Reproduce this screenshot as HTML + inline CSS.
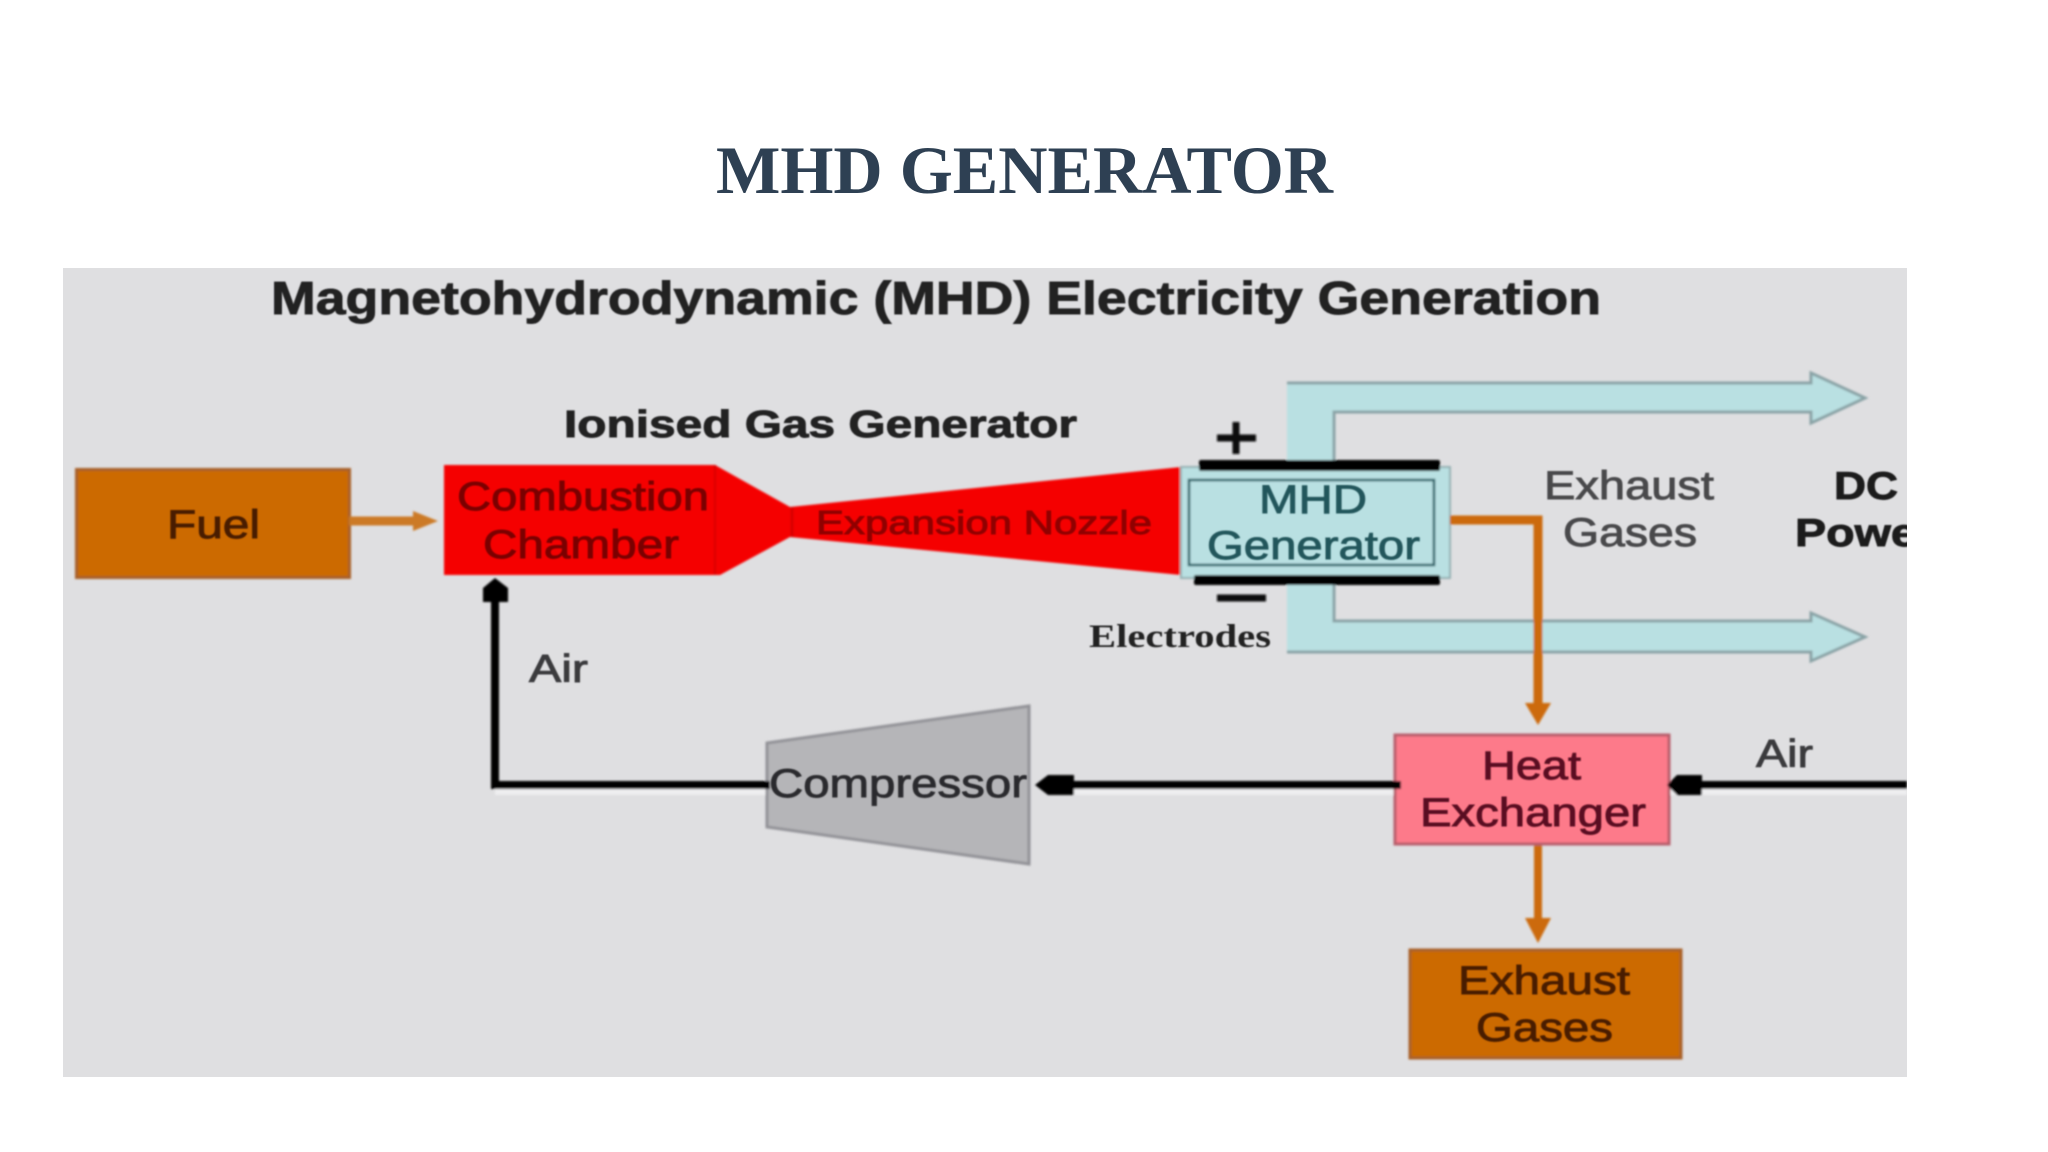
<!DOCTYPE html>
<html lang="en">
<head>
<meta charset="utf-8">
<title>MHD Generator</title>
<style>
html,body{margin:0;padding:0;background:#fff;width:2048px;height:1152px;overflow:hidden}
svg{display:block}
text{font-family:"Liberation Sans",sans-serif}
.s{font-family:"Liberation Serif",serif}
.h text{stroke-width:.9;paint-order:stroke}
</style>
</head>
<body>
<svg width="2048" height="1152" viewBox="0 0 2048 1152" xmlns="http://www.w3.org/2000/svg">
<defs>
<filter id="b" x="-2%" y="-2%" width="104%" height="104%"><feGaussianBlur stdDeviation="1.1"/></filter>
<filter id="t" x="-2%" y="-10%" width="104%" height="120%"><feGaussianBlur stdDeviation="0.9"/></filter>
<clipPath id="p"><rect x="63" y="268" width="1844" height="809"/></clipPath>
</defs>
<rect width="2048" height="1152" fill="#fff"/>
<text class="s" x="716" y="193" font-size="68" font-weight="700" fill="#2e4053" textLength="617" lengthAdjust="spacingAndGlyphs">MHD GENERATOR</text>
<rect x="63" y="268" width="1844" height="809" fill="#dfdfe1"/>
<g clip-path="url(#p)">
<g filter="url(#b)">
<!-- blue arrows -->
<path d="M1287 461V383H1811V373L1865 398L1811 423V412H1334V461Z" fill="#b9e0e2"/>
<path d="M1287 383H1811V373L1865 398L1811 423V412H1334V461" fill="none" stroke="#8aa3a6" stroke-width="3"/>
<path d="M1287 584V652H1811V661L1865 637L1811 613V621H1334V584Z" fill="#b9e0e2"/>
<path d="M1287 652H1811V661L1865 637L1811 613V621H1334V584" fill="none" stroke="#8aa3a6" stroke-width="3"/>
<!-- halos -->
<path d="M1907 788H1395M1395 788H1060M767 788H495" stroke="#eeeef0" stroke-width="14" fill="none"/>
<!-- fuel -->
<rect x="76.500" y="469.500" width="273" height="108" fill="#cc6a00" stroke="#a8602a" stroke-width="3"/>
<path d="M349 521H418" stroke="#cc7a28" stroke-width="9" fill="none"/>
<path d="M413 511L438 521L413 531Z" fill="#cc7a28"/>
<!-- combustion and nozzle -->
<path d="M444 465H715L790 507L1181 467V575L790 537L720 575H444Z" fill="#f50000"/>
<path d="M715 465V575" stroke="#d80000" stroke-width="2"/>
<path d="M792 507V537" stroke="#d80000" stroke-width="3"/>
<!-- MHD box -->
<rect x="1181" y="467" width="269" height="111" fill="#b9e0e2" stroke="#95b0b2" stroke-width="2"/>
<rect x="1189" y="480" width="245" height="85" fill="none" stroke="#2a6066" stroke-width="2.500"/>
<rect x="1199" y="460" width="241" height="11" rx="2" fill="#050505"/>
<rect x="1194" y="575" width="246" height="10" rx="2" fill="#050505"/>
<path d="M1217 438H1256M1236 422V454" stroke="#111" stroke-width="7" fill="none"/>
<path d="M1217 598H1266" stroke="#111" stroke-width="7" fill="none"/>
<!-- orange lines -->
<path d="M1450 520H1538V705" stroke="#cc6a10" stroke-width="9" fill="none"/>
<path d="M1525 703H1551L1538 725Z" fill="#cc6a10"/>
<path d="M1538 844V920" stroke="#cc6a10" stroke-width="8" fill="none"/>
<path d="M1525 918L1538 943L1551 918Z" fill="#cc6a10"/>
<!-- heat exchanger -->
<rect x="1395" y="735" width="274" height="109" fill="#fd7a8a" stroke="#b85e6c" stroke-width="3"/>
<!-- exhaust box -->
<rect x="1410" y="950" width="271" height="108" fill="#cc6a00" stroke="#a8602a" stroke-width="3"/>
<!-- compressor -->
<path d="M767 743L1029 706V864L767 827Z" fill="#b5b5b8" stroke="#929297" stroke-width="3"/>
<!-- black lines -->
<path d="M1907 785H1680" stroke="#050505" stroke-width="8" fill="none"/>
<path d="M1667 785L1677 775H1702V795H1677Z" fill="#050505"/>
<path d="M1401 785H1060" stroke="#050505" stroke-width="8" fill="none"/>
<path d="M1035 785L1048 775H1074V795H1048Z" fill="#050505"/>
<path d="M770 785H495V595" stroke="#050505" stroke-width="8" fill="none"/>
<path d="M495 578L508 588V602H483V588Z" fill="#050505"/>
</g>
<g filter="url(#t)" class="h">
<text x="271" y="314" font-size="46" font-weight="700" fill="#222224" stroke="#222224" textLength="1330" lengthAdjust="spacingAndGlyphs">Magnetohydrodynamic (MHD) Electricity Generation</text>
<text x="564" y="437" font-size="38" font-weight="700" fill="#222224" stroke="#222224" textLength="513" lengthAdjust="spacingAndGlyphs">Ionised Gas Generator</text>
<text x="167" y="538" font-size="40" fill="#4a1e05" stroke="#4a1e05" textLength="93" lengthAdjust="spacingAndGlyphs">Fuel</text>
<text x="457" y="510" font-size="40" fill="#7a0505" stroke="#7a0505" textLength="252" lengthAdjust="spacingAndGlyphs">Combustion</text>
<text x="483" y="558" font-size="40" fill="#7a0505" stroke="#7a0505" textLength="196" lengthAdjust="spacingAndGlyphs">Chamber</text>
<text x="816" y="534" font-size="33" fill="#900404" stroke="#900404" textLength="336" lengthAdjust="spacingAndGlyphs">Expansion Nozzle</text>
<text x="1259" y="513" font-size="40" fill="#24565c" stroke="#24565c" textLength="108" lengthAdjust="spacingAndGlyphs">MHD</text>
<text x="1207" y="559" font-size="40" fill="#24565c" stroke="#24565c" textLength="213" lengthAdjust="spacingAndGlyphs">Generator</text>
<text class="s" x="1089" y="647" font-size="33" font-weight="700" fill="#222" textLength="182" lengthAdjust="spacingAndGlyphs">Electrodes</text>
<text x="1544" y="499" font-size="40" fill="#4a4a4c" stroke="#4a4a4c" textLength="170" lengthAdjust="spacingAndGlyphs">Exhaust</text>
<text x="1563" y="546" font-size="40" fill="#4a4a4c" stroke="#4a4a4c" textLength="134" lengthAdjust="spacingAndGlyphs">Gases</text>
<text x="1834" y="499" font-size="39" font-weight="700" fill="#1a1a1a" stroke="#1a1a1a" textLength="64" lengthAdjust="spacingAndGlyphs">DC</text>
<text x="1795" y="546" font-size="39" font-weight="700" fill="#1a1a1a" stroke="#1a1a1a" textLength="140" lengthAdjust="spacingAndGlyphs">Power</text>
<text x="529" y="682" font-size="39" fill="#3a3a3c" stroke="#3a3a3c" textLength="59" lengthAdjust="spacingAndGlyphs">Air</text>
<text x="1756" y="767" font-size="39" fill="#3a3a3c" stroke="#3a3a3c" textLength="57" lengthAdjust="spacingAndGlyphs">Air</text>
<text x="769" y="797" font-size="40" fill="#2c2c2e" stroke="#2c2c2e" textLength="258" lengthAdjust="spacingAndGlyphs">Compressor</text>
<text x="1482" y="779" font-size="40" fill="#5a1020" stroke="#5a1020" textLength="99" lengthAdjust="spacingAndGlyphs">Heat</text>
<text x="1420" y="826" font-size="40" fill="#5a1020" stroke="#5a1020" textLength="226" lengthAdjust="spacingAndGlyphs">Exchanger</text>
<text x="1458" y="994" font-size="40" fill="#4a1e05" stroke="#4a1e05" textLength="172" lengthAdjust="spacingAndGlyphs">Exhaust</text>
<text x="1476" y="1041" font-size="40" fill="#4a1e05" stroke="#4a1e05" textLength="137" lengthAdjust="spacingAndGlyphs">Gases</text>
</g>
</g>
</svg>
</body>
</html>
